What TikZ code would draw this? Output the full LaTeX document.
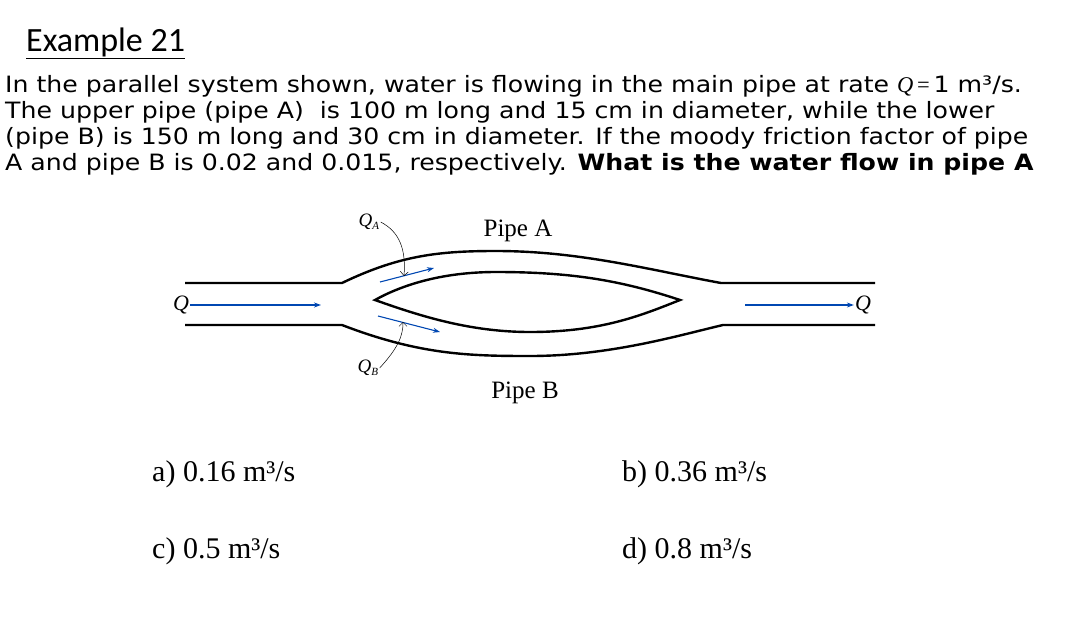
\documentclass[tikz,border=0pt]{standalone}
\usepackage{fontspec}
\setmainfont{Liberation Serif}
\newfontfamily\calib{Carlito}
\newfontfamily\verd[FakeStretch=1.12]{DejaVu Sans}
\usetikzlibrary{arrows.meta}
\begin{document}
\begin{tikzpicture}[x=1pt,y=-1pt,
  pipe/.style={line width=2.4pt},
  flow/.style={draw=blue!60!cyan!70!black,line width=1.1pt,-{Stealth[length=7pt,width=5pt]}},
  lbl/.style={inner sep=0pt,anchor=west},
  thin/.style={line width=0.5pt,-{Straight Barb[length=4pt]}}]
\useasboundingbox (0,0) rectangle (1087,624);
\node[lbl,font=\calib\fontsize{34}{38}\selectfont] (title) at (26,43) {\underline{Example 21}};
\begin{scope}[every node/.style={lbl,font=\verd\fontsize{22.5}{26}\selectfont}]
\node (l1) at (5,86) {In the parallel system shown, water is flowing in the main pipe at rate \textit{\rmfamily Q}\,{\rmfamily =}\,1 m³/s.};
\node (l2) at (5,112) {The upper pipe (pipe A)\ \ is 100 m long and 15 cm in diameter, while the lower};
\node (l3) at (5,138) {(pipe B) is 150 m long and 30 cm in diameter. If the moody friction factor of pipe};
\node (l4) at (5,164) {A and pipe B is 0.02 and 0.015, respectively. \textbf{What is the water flow in pipe A}};
\end{scope}
% pipes
\draw[pipe] (185,283) -- (342,283) .. controls (400,255) and (440,251) .. (496,251) .. controls (580,251) and (650,270) .. (721,283) -- (875,283);
\draw[pipe] (185,325) -- (342,325) .. controls (420,355) and (470,356) .. (530,356) .. controls (610,356) and (680,335) .. (723,325) -- (875,325);
\draw[pipe,line join=miter] (680,300) .. controls (620,280) and (570,272) .. (496,272) .. controls (440,272) and (400,286) .. (375,300) .. controls (420,316) and (470,332) .. (530,332) .. controls (600,332) and (640,316) .. (680,300) -- cycle;
% flow arrows
\node[inner sep=1pt,font=\itshape\fontsize{22}{24}\selectfont] (qin) at (181,305) {Q};
\node[inner sep=1pt,font=\itshape\fontsize{22}{24}\selectfont] (qout) at (863,305) {Q};
\coordinate (qa1) at (321,305); \coordinate (qb1) at (745,305);
\draw[flow] (qin) -- (qa1);
\draw[flow] (qb1) -- (qout);
\coordinate (ua) at (380,282); \coordinate (ub) at (434,268);
\coordinate (la) at (378,316); \coordinate (lb) at (440,332);
\draw[flow] (ua) -- (ub);
\draw[flow] (la) -- (lb);
\node[inner sep=1pt,font=\itshape\fontsize{19}{20}\selectfont] (QA) at (369,222) {Q\textsubscript{\fontsize{11}{11}\selectfont A}};
\node[inner sep=1pt,font=\itshape\fontsize{19}{20}\selectfont] (QB) at (368,368) {Q\textsubscript{\fontsize{11}{11}\selectfont B}};
\coordinate (qat) at (404,276); \coordinate (qbt) at (403,322);
\draw[thin] (QA.east) .. controls (400,232) and (406,250) .. (qat);
\draw[thin] (QB.east) .. controls (398,348) and (403,336) .. (qbt);
\node[inner sep=0pt,font=\fontsize{25}{28}\selectfont] (pa) at (518,231) {Pipe A};
\node[inner sep=0pt,font=\fontsize{25}{28}\selectfont] (pb) at (525,393) {Pipe B};
% answers
\begin{scope}[every node/.style={lbl,font=\fontsize{30}{32}\selectfont}]
\node (a) at (152,474) {a) 0.16 m³/s};
\node (b) at (622,474) {b) 0.36 m³/s};
\node (c) at (152,551) {c) 0.5 m³/s};
\node (d) at (622,551) {d) 0.8 m³/s};
\end{scope}
\end{tikzpicture}
\end{document}
